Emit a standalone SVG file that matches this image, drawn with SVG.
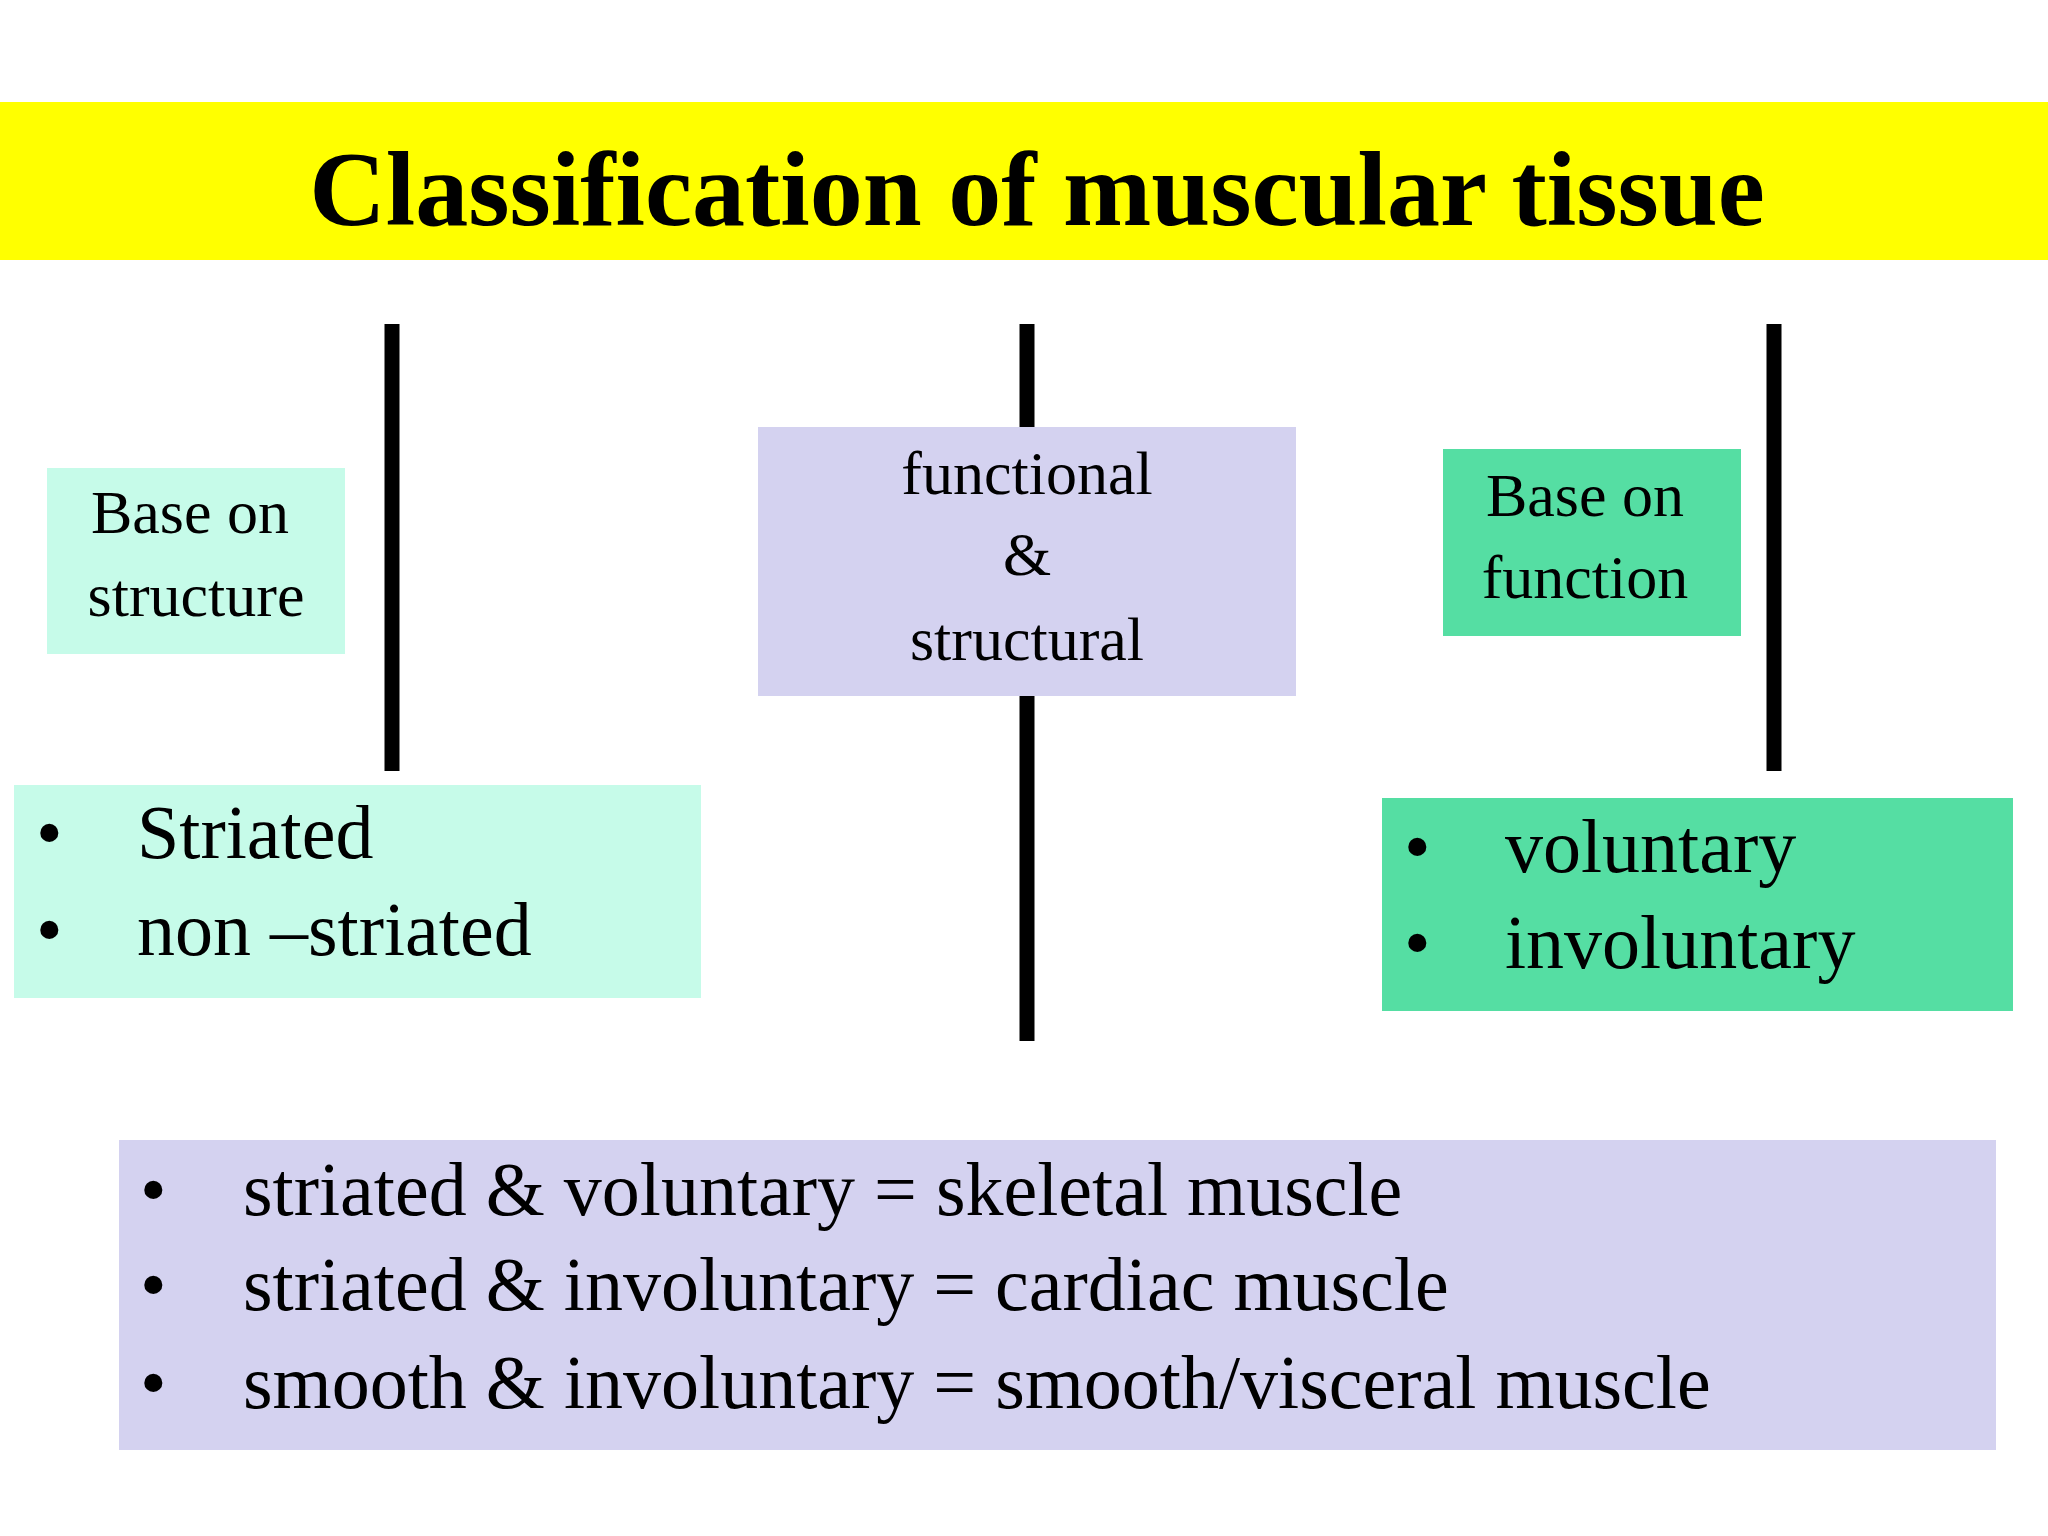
<svg xmlns="http://www.w3.org/2000/svg" width="2048" height="1536" viewBox="0 0 2048 1536">
<style>
.t{font-family:"Liberation Serif","Times New Roman",serif;fill:#000}
.m{font-size:62px;text-anchor:middle}
.b{font-size:76px}
</style>
<rect width="2048" height="1536" fill="#fff"/>
<g id="title"><rect x="0" y="102" width="2048" height="158" fill="#ffff00"/>
<text class="t" x="1037" y="225" font-size="106" font-weight="bold" text-anchor="middle">Classification of muscular tissue</text></g>
<g id="connectors" stroke="#000" stroke-width="15">
<line x1="392" y1="324" x2="392" y2="771"/>
<line x1="1027" y1="324" x2="1027" y2="1041"/>
<line x1="1774" y1="324" x2="1774" y2="771"/>
</g>
<g id="structure"><rect x="47" y="468" width="298" height="186" fill="#c6fbe9"/>
<text class="t m" x="190" y="533">Base on</text><text class="t m" x="196" y="616">structure</text></g>
<g id="both"><rect x="758" y="427" width="538" height="269" fill="#d4d2f0"/>
<text class="t m" x="1027" y="494">functional</text><text class="t m" x="1027" y="575">&amp;</text><text class="t m" x="1027" y="660">structural</text></g>
<g id="function"><rect x="1443" y="449" width="298" height="187" fill="#55dea3"/>
<text class="t m" x="1585" y="516">Base on</text><text class="t m" x="1585" y="598">function</text></g>
<g id="striation"><rect x="14" y="785" width="687" height="213" fill="#c6fbe9"/>
<text class="t b" x="36" y="858">•</text><text class="t b" x="137" y="858">Striated</text>
<text class="t b" x="36" y="955">•</text><text class="t b" x="137" y="955">non –striated</text></g>
<g id="voluntary"><rect x="1382" y="798" width="631" height="213" fill="#55dea3"/>
<text class="t b" x="1404" y="872">•</text><text class="t b" x="1505" y="872">voluntary</text>
<text class="t b" x="1404" y="968">•</text><text class="t b" x="1505" y="968">involuntary</text></g>
<g id="types"><rect x="119" y="1140" width="1877" height="310" fill="#d4d2f0"/>
<text class="t b" x="140" y="1215">•</text><text class="t b" x="243" y="1215">striated &amp; voluntary = skeletal muscle</text>
<text class="t b" x="140" y="1310">•</text><text class="t b" x="243" y="1310">striated &amp; involuntary = cardiac muscle</text>
<text class="t b" x="140" y="1408">•</text><text class="t b" x="243" y="1408">smooth &amp; involuntary = smooth/visceral muscle</text></g>
</svg>
